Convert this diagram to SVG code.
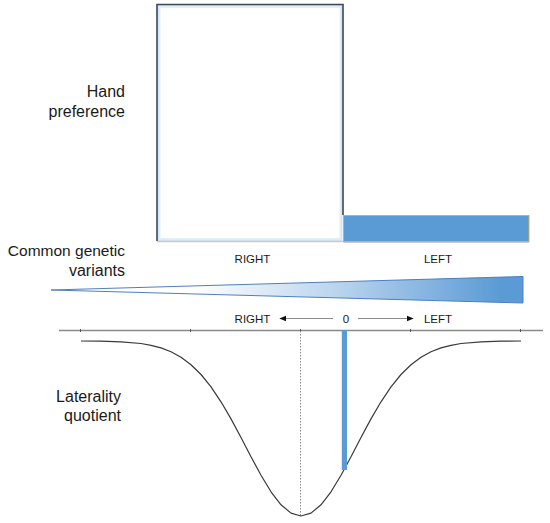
<svg xmlns="http://www.w3.org/2000/svg" width="550" height="523" viewBox="0 0 550 523">
<style>
.lbl{font-family:"Liberation Sans",Arial,sans-serif;font-size:16px;fill:#1a1a1a}
.ax{font-family:"Liberation Sans",Arial,sans-serif;font-size:11.5px;fill:#1a1a1a}
.axis{stroke:#8a8a8a;stroke-width:1.4;fill:none}
.tick{stroke:#555;stroke-width:1;fill:none}
.arr{stroke:#8a8a8a;stroke-width:1;fill:none;marker-end:url(#ah)}
</style>
<defs>
<marker id="ah" viewBox="0 0 10 10" refX="9" refY="5" markerWidth="7" markerHeight="7" markerUnits="userSpaceOnUse" orient="auto">
<path d="M0,1 L10,5 L0,9 Z" fill="#111"/>
</marker>
<linearGradient id="tri" gradientUnits="userSpaceOnUse" x1="51" y1="0" x2="523" y2="0">
<stop offset="0" stop-color="#ffffff"/>
<stop offset="0.3" stop-color="#ffffff"/>
<stop offset="0.6" stop-color="#bcd5ee"/>
<stop offset="0.95" stop-color="#5b9bd5"/>
<stop offset="1" stop-color="#5b9bd5"/>
</linearGradient>
</defs>
<rect width="550" height="523" fill="#ffffff"/>

<g id="hand-preference-label">
<text class="lbl" x="125" y="97" text-anchor="end">Hand</text>
<text class="lbl" x="125" y="117" text-anchor="end">preference</text>
</g>

<g id="right-box">
<rect x="157" y="4.5" width="186" height="236.5" fill="#ffffff"/>
<rect x="159" y="6.5" width="182" height="233" fill="none" stroke="#e4eef9" stroke-width="3"/>
<rect x="158.3" y="5.8" width="183.4" height="234.4" fill="none" stroke="#d2e3f5" stroke-width="1"/>
<line x1="157" y1="241.5" x2="343" y2="241.5" stroke="#c9c9c9" stroke-width="1.5"/>
<path d="M157,241 V4.5 H343 V215" fill="none" stroke="#3e4656" stroke-width="1.6"/>
</g>

<g id="left-box">
<rect x="343.5" y="215.5" width="185.5" height="26" fill="#5b9bd5" stroke="#d6b440" stroke-width="1"/>
<line x1="343.5" y1="242.5" x2="529" y2="242.5" stroke="#c9c9c9" stroke-width="1"/>
</g>

<g id="hand-axis-labels">
<text class="ax" x="252.5" y="263" text-anchor="middle">RIGHT</text>
<text class="ax" x="438" y="263" text-anchor="middle">LEFT</text>
</g>

<g id="genetic-label">
<text class="lbl" x="125" y="256" text-anchor="end" style="font-size:15.5px">Common genetic</text>
<text class="lbl" x="125" y="275.5" text-anchor="end">variants</text>
</g>

<g id="genetic-wedge">
<polygon points="51,290 523,276.5 523,303" fill="url(#tri)" stroke="#4f7fc0" stroke-width="1"/>
</g>

<g id="lq-axis-labels">
<text class="ax" x="252.5" y="323" text-anchor="middle">RIGHT</text>
<text class="ax" x="346" y="323" text-anchor="middle">0</text>
<text class="ax" x="438" y="323" text-anchor="middle">LEFT</text>
</g>

<g id="connectors">
<line class="arr" x1="333" y1="318.5" x2="280" y2="318.5"/>
<line class="arr" x1="358" y1="318.5" x2="413" y2="318.5"/>
<line class="axis" x1="59" y1="330.5" x2="543" y2="330.5"/>
<path class="tick" d="M80.5,329 V332 M190.5,329 V332 M300.5,329 V332 M410.5,329 V332 M520.5,329 V332"/>
<line x1="300.5" y1="331" x2="300.5" y2="516" stroke="#8a8a8a" stroke-width="1" stroke-dasharray="1.5,1.5"/>
<path d="M81,341 L101,341.2 L121,341.8 L141,343.5 L151,345.3 L161,347.9 L171,351.7 L181,357.2 L191,364.7 L201,374.5 L211,386.9 L221,401.8 L231,418.9 L241,437.5 L251,456.8 L261,475.3 L271,491.8 L281,504.8 L291,513.1 L301,516 L311,513.1 L321,504.8 L331,491.8 L341,475.3 L351,456.8 L361,437.5 L371,418.9 L381,401.8 L391,386.9 L401,374.5 L411,364.7 L421,357.2 L431,351.7 L441,347.9 L451,345.3 L461,343.5 L481,341.8 L501,341.2 L521,341" fill="none" stroke="#3a3a3a" stroke-width="1.2" stroke-linejoin="round"/>
</g>

<g id="lq-bar">
<rect x="341.8" y="330" width="5.2" height="140" fill="#5b9bd5"/>
</g>

<g id="laterality-label">
<text class="lbl" x="121" y="402" text-anchor="end">Laterality</text>
<text class="lbl" x="121" y="421" text-anchor="end">quotient</text>
</g>
</svg>
